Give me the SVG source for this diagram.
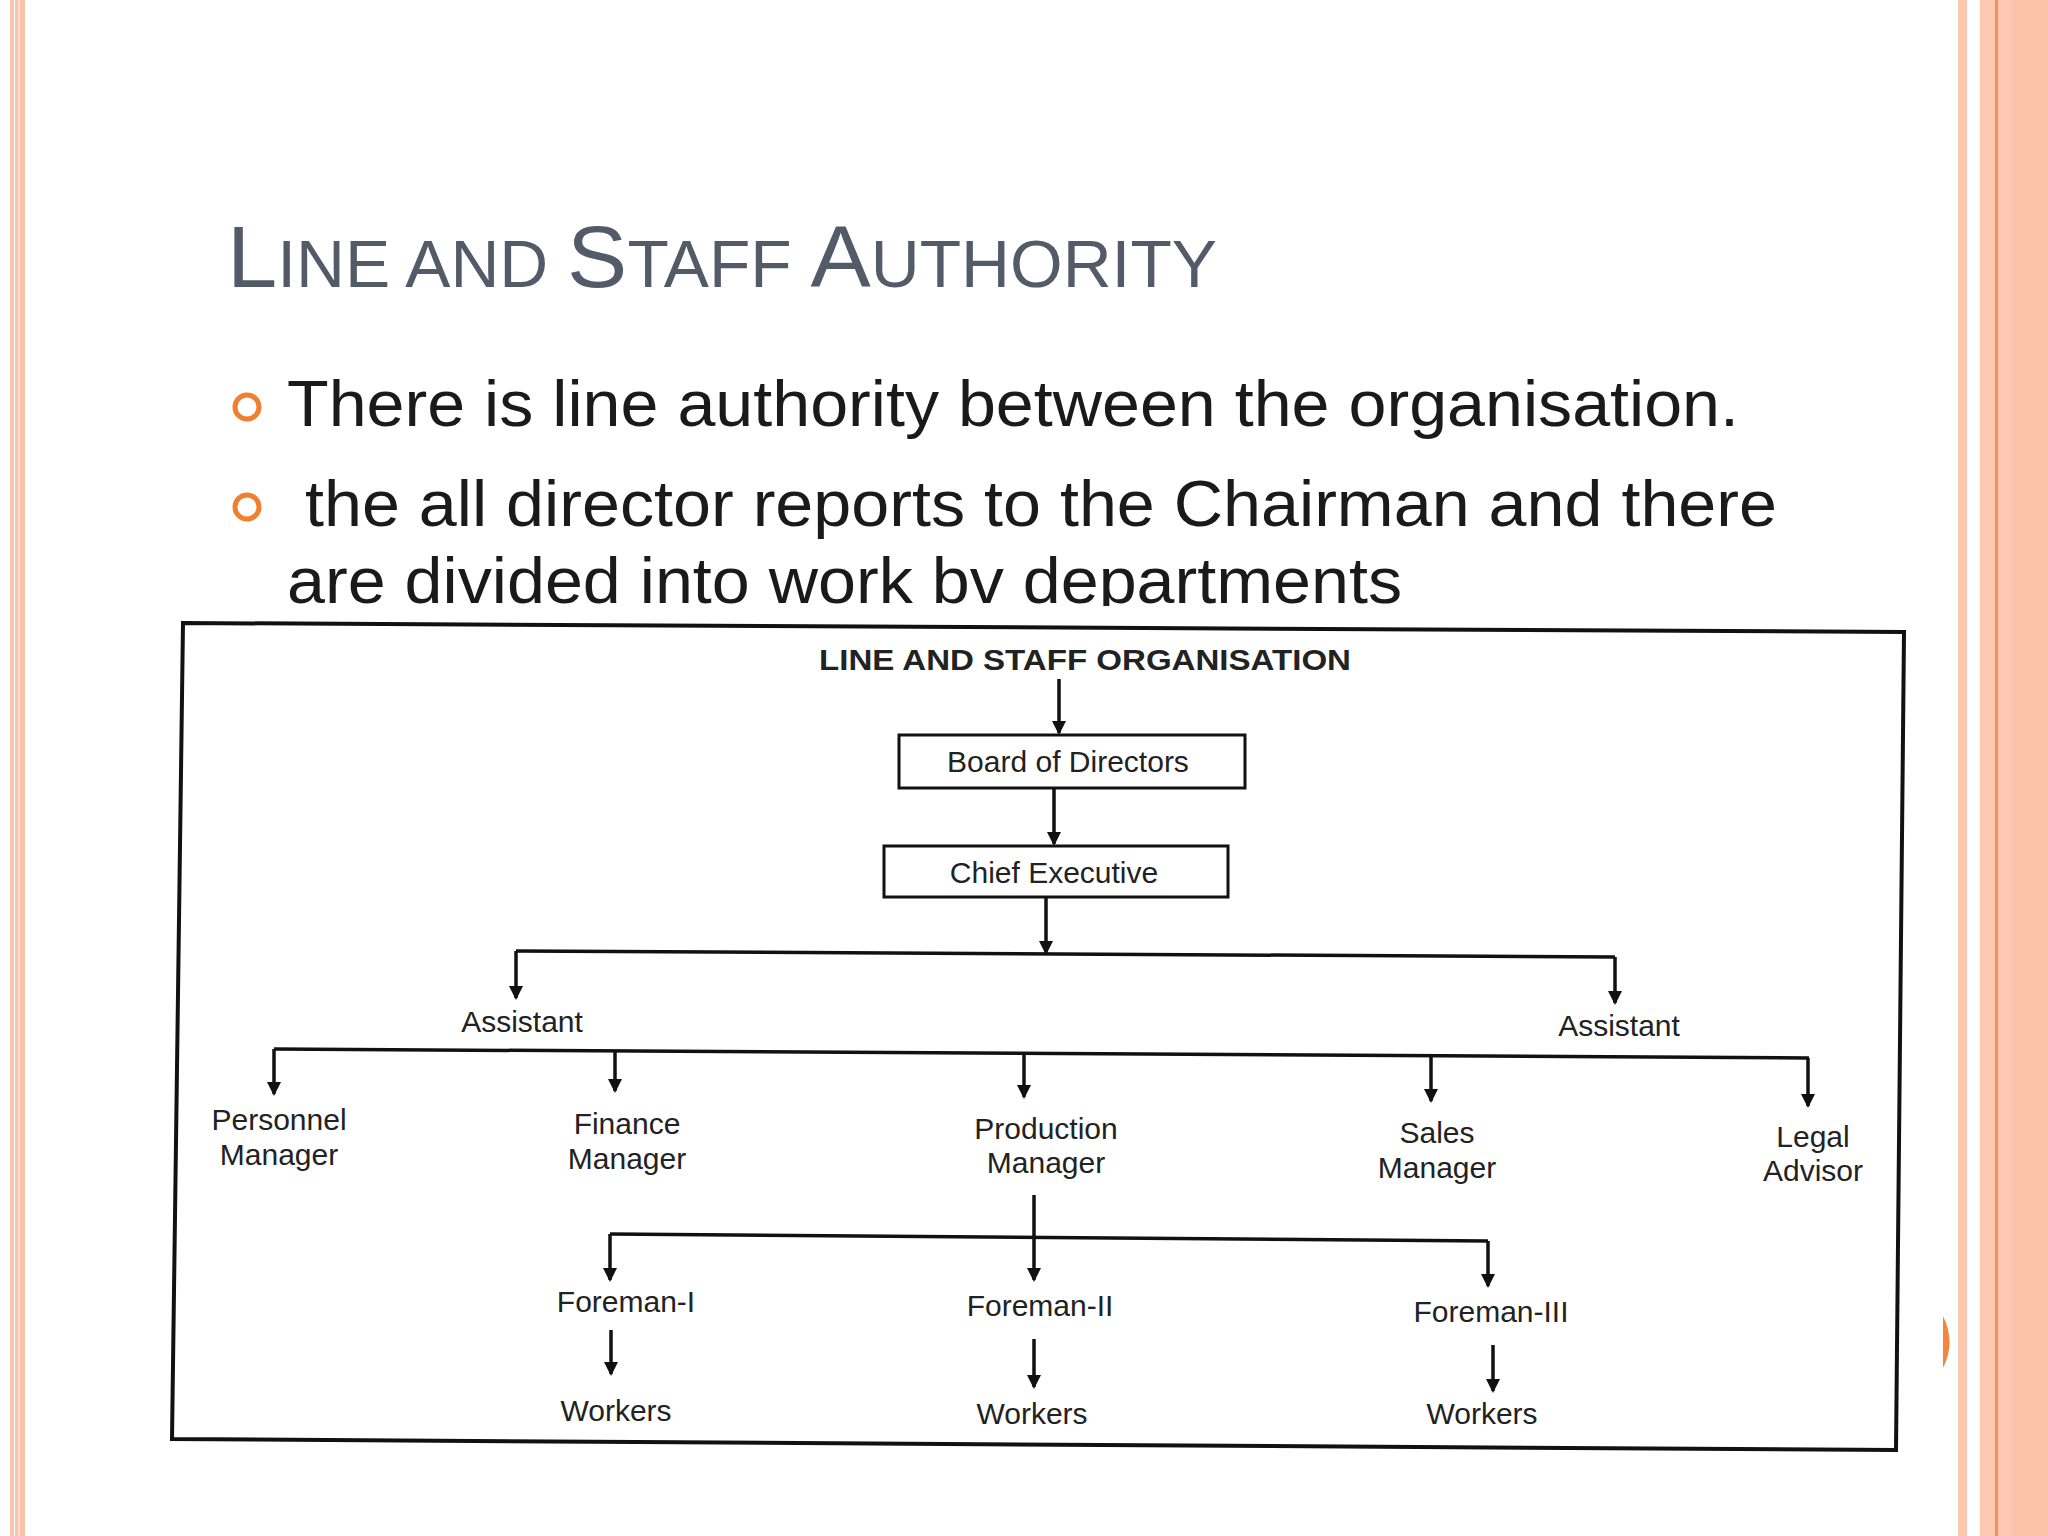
<svg xmlns="http://www.w3.org/2000/svg" width="2048" height="1536" viewBox="0 0 2048 1536">
<style>
.t{font-family:"Liberation Sans",Arial,sans-serif;fill:#1a1a1a}
.d{font-family:"Liberation Sans",Arial,sans-serif;fill:#222;font-size:30px;text-anchor:middle}
.ln{stroke:#111;stroke-width:3.5;fill:none}
.bx{stroke:#111;stroke-width:3;fill:#fff}
</style>
<defs>
<marker id="a" markerWidth="14" markerHeight="14" refX="7" refY="12" orient="0" markerUnits="userSpaceOnUse">
<path d="M0,0 L14,0 L7,14 Z" fill="#111"/>
</marker>
</defs>
<rect width="2048" height="1536" fill="#fff"/>
<rect x="10" y="0" width="4" height="1536" fill="#f7c4b0"/>
<rect x="15" y="0" width="10" height="1536" fill="#fbc4aa"/>
<rect x="18" y="0" width="2" height="1536" fill="#fde0d2"/>
<rect x="1958" y="0" width="9" height="1536" fill="#fcc8b2"/>
<rect x="1980" y="0" width="68" height="1536" fill="#fcc8b2"/>
<rect x="1995" y="0" width="3" height="1536" fill="#f5905a"/>
<rect x="2012" y="0" width="36" height="1536" fill="#fcc3aa"/>
<path d="M1943,1316 Q1956,1342 1943,1368 Z" fill="#f5853a"/>
<text x="227" y="287" font-family="'Liberation Sans',Arial,sans-serif" fill="#545b68" font-size="66" textLength="990" lengthAdjust="spacingAndGlyphs"><tspan font-size="88">L</tspan>INE AND <tspan font-size="88">S</tspan>TAFF <tspan font-size="88">A</tspan>UTHORITY</text>
<circle cx="247" cy="407" r="12" fill="none" stroke="#f08030" stroke-width="5"/>
<circle cx="247" cy="507" r="12" fill="none" stroke="#f08030" stroke-width="5"/>
<text class="t" x="287" y="426" font-size="64" textLength="1452" lengthAdjust="spacingAndGlyphs">There is line authority between the organisation.</text>
<text class="t" x="305" y="526" font-size="64" textLength="1472" lengthAdjust="spacingAndGlyphs">the all director reports to the Chairman and there</text>
<text class="t" x="287" y="603" font-size="64" textLength="1115" lengthAdjust="spacingAndGlyphs">are divided into work bv departments</text>
<rect x="160" y="606" width="1540" height="14" fill="#fff"/>
<polygon points="183,623 1904,632 1896,1450 172,1439" fill="#fff" stroke="#111" stroke-width="4"/>
<text x="1085" y="670" class="d" font-weight="bold" font-size="28" textLength="532" lengthAdjust="spacingAndGlyphs">LINE AND STAFF ORGANISATION</text>
<g id="board"><rect class="bx" x="899" y="735" width="346" height="53"/><text class="d" x="1068" y="772">Board of Directors</text></g>
<g id="chief"><rect class="bx" x="884" y="846" width="344" height="51"/><text class="d" x="1054" y="883">Chief Executive</text></g>
<g id="asst1"><text class="d" x="522" y="1032">Assistant</text></g>
<g id="asst2"><text class="d" x="1619" y="1036">Assistant</text></g>
<g id="personnel"><text class="d" x="279" y="1130">Personnel</text><text class="d" x="279" y="1165">Manager</text></g>
<g id="finance"><text class="d" x="627" y="1134">Finance</text><text class="d" x="627" y="1169">Manager</text></g>
<g id="production"><text class="d" x="1046" y="1139">Production</text><text class="d" x="1046" y="1173">Manager</text></g>
<g id="sales"><text class="d" x="1437" y="1143">Sales</text><text class="d" x="1437" y="1178">Manager</text></g>
<g id="legal"><text class="d" x="1813" y="1147">Legal</text><text class="d" x="1813" y="1181">Advisor</text></g>
<g id="f1"><text class="d" x="626" y="1312">Foreman-I</text></g>
<g id="f2"><text class="d" x="1040" y="1316">Foreman-II</text></g>
<g id="f3"><text class="d" x="1491" y="1322">Foreman-III</text></g>
<g id="w1"><text class="d" x="616" y="1421">Workers</text></g>
<g id="w2"><text class="d" x="1032" y="1424">Workers</text></g>
<g id="w3"><text class="d" x="1482" y="1424">Workers</text></g>
<g id="connectors">
<path class="ln" marker-end="url(#a)" d="M1059,679 V733"/>
<path class="ln" marker-end="url(#a)" d="M1054,788 V844"/>
<path class="ln" marker-end="url(#a)" d="M1046,897 V953"/>
<path class="ln" d="M516,951 L1615,957"/>
<path class="ln" marker-end="url(#a)" d="M516,951 V998"/>
<path class="ln" marker-end="url(#a)" d="M1615,957 V1003"/>
<path class="ln" d="M274,1049 L1809,1058"/>
<path class="ln" marker-end="url(#a)" d="M274,1049 V1094"/>
<path class="ln" marker-end="url(#a)" d="M615,1051 V1091"/>
<path class="ln" marker-end="url(#a)" d="M1024,1053 V1097"/>
<path class="ln" marker-end="url(#a)" d="M1431,1055 V1101"/>
<path class="ln" marker-end="url(#a)" d="M1808,1058 V1106"/>
<path class="ln" marker-end="url(#a)" d="M1034,1195 V1280"/>
<path class="ln" d="M610,1234 L1488,1241"/>
<path class="ln" marker-end="url(#a)" d="M610,1234 V1280"/>
<path class="ln" marker-end="url(#a)" d="M1488,1241 V1286"/>
<path class="ln" marker-end="url(#a)" d="M611,1330 V1374"/>
<path class="ln" marker-end="url(#a)" d="M1034,1339 V1387"/>
<path class="ln" marker-end="url(#a)" d="M1493,1345 V1391"/>
</g>
</svg>
